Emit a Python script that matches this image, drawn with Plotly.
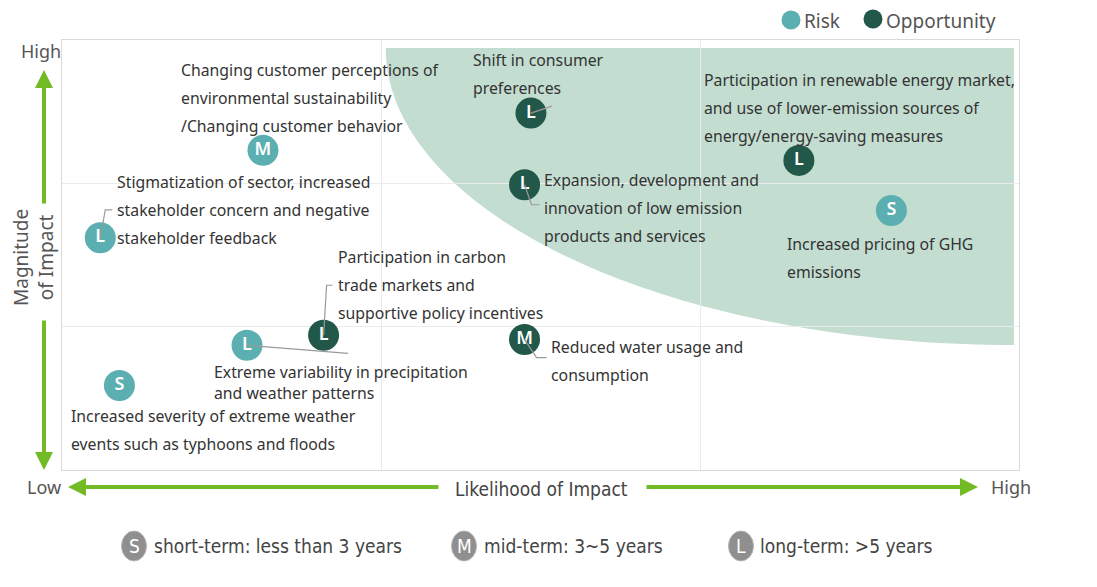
import numpy as np
import plotly.graph_objects as go

# ---------------- data ----------------
labels = [
    ["Changing customer perceptions of", "environmental sustainability", "/Changing customer behavior"],
    ["Shift in consumer", "preferences"],
    ["Participation in renewable energy market,", "and use of lower-emission sources of", "energy/energy-saving measures"],
    ["Expansion, development and", "innovation of low emission", "products and services"],
    ["Increased pricing of GHG", "emissions"],
    ["Stigmatization of sector, increased", "stakeholder concern and negative", "stakeholder feedback"],
    ["Participation in carbon", "trade markets and", "supportive policy incentives"],
    ["Extreme variability in precipitation", "and weather patterns"],
    ["Increased severity of extreme weather", "events such as typhoons and floods"],
    ["Reduced water usage and", "consumption"],
]
types = ["Risk", "Opportunity", "Opportunity", "Opportunity", "Risk",
         "Risk", "Opportunity", "Risk", "Risk", "Opportunity"]
terms = ["M", "L", "L", "L", "S", "L", "L", "L", "S", "M"]
likelihood = [0.63, 1.47, 2.31, 1.45, 2.60, 0.12, 0.82, 0.58, 0.18, 1.45]
magnitude = [2.23, 2.49, 2.16, 1.99, 1.81, 1.62, 0.94, 0.87, 0.59, 0.91]

term_legend = [("S", "short-term: less than 3 years"),
               ("M", "mid-term: 3~5 years"),
               ("L", "long-term: >5 years")]

# ---------------- styles ----------------
# label placement (pixel offset of first line from point: dx, dy down; line spacing or None = compact block)
label_style = [(-84, -80, 28), (-60, -53, 28), (-97, -80, 28), (17, -5, 28), (-106, 33, 28),
               (15, -56, 28), (12, -78, 28), (-35, 28, None), (-50, 31, 28), (24, 7, 28)]
# leader paths in pixel offsets (x right, y down)
leaders = {1: [(0, 0), (21, -7)],
           3: [(0, 0), (7, 20), (15, 20)],
           5: [(0, 0), (5, -28), (12, -28)],
           6: [(0, 0), (3, -50), (9, -50)],
           7: [(0, 0), (101, 8)],
           9: [(0, 0), (12, 18), (22, 18)]}

colors = {"Risk": "#5bafb0", "Opportunity": "#22584a"}
GREEN = "#72bb25"
TXT = "#333333"
FONT = "Noto Sans, Open Sans, sans-serif"
COND = "Liberation Sans Narrow, DejaVu Sans Condensed, Roboto Condensed, sans-serif"
LFS = 15.8

L, R, T, B = 62, 1019, 40, 470
W, H = R - L, B - T
def px(p):
    return (p - L) / W
def py(p):
    return (B - p) / H

fig = go.Figure()

# shaded high-priority zone (quarter ellipse)
xc, yc, rx, ry = 2.984, 2.944, 1.969, 2.072
th = np.linspace(np.pi, 1.5 * np.pi, 80)
ex = xc + rx * np.cos(th)
ey = yc + ry * np.sin(th)
path = "M " + " L ".join(f"{a:.4f},{b:.4f}" for a, b in zip(ex, ey)) + f" L {xc},{yc} Z"
fig.add_shape(type="path", path=path, xref="x", yref="y", fillcolor="#c3ddd1",
              line=dict(width=0), layer="below")

# points
for t in ["Risk", "Opportunity"]:
    idx = [i for i, v in enumerate(types) if v == t]
    fig.add_trace(go.Scatter(
        x=[likelihood[i] for i in idx], y=[magnitude[i] for i in idx],
        mode="markers+text", text=[terms[i] for i in idx], textposition="middle center",
        textfont=dict(color="white", size=18, family=FONT, weight=600),
        marker=dict(size=31, color=colors[t], line=dict(width=0)),
        name=t, showlegend=False, cliponaxis=False, hoverinfo="skip"))

# labels
for i, lines in enumerate(labels):
    dx, dy, sp = label_style[i]
    if sp is None:
        lh = LFS * 1.3
        fig.add_annotation(x=likelihood[i], y=magnitude[i], xref="x", yref="y",
                           text="<br>".join(lines), showarrow=False, xanchor="left",
                           yanchor="middle", align="left",
                           xshift=dx, yshift=-(dy + (len(lines) - 1) * lh / 2 - 1),
                           font=dict(size=LFS, color=TXT, family=FONT))
        continue
    for k, ln in enumerate(lines):
        fig.add_annotation(x=likelihood[i], y=magnitude[i], xref="x", yref="y",
                           text=ln, showarrow=False, xanchor="left", yanchor="middle",
                           xshift=dx, yshift=-(dy + k * sp),
                           font=dict(size=LFS, color=TXT, family=FONT))

# leader lines
for i, pts in leaders.items():
    p = "M " + " L ".join(f"{a},{-b}" for a, b in pts)
    fig.add_shape(type="path", path=p, xsizemode="pixel", ysizemode="pixel",
                  xanchor=likelihood[i], yanchor=magnitude[i], xref="x", yref="y",
                  line=dict(color="#9a9a9a", width=1.2), layer="above")

# top legend
for cx, cy, col, lab, tx in [(791, 20, colors["Risk"], "Risk", 802),
                             (873, 19, colors["Opportunity"], "Opportunity", 884)]:
    r = 9.5
    fig.add_shape(type="circle", xref="paper", yref="paper",
                  x0=px(cx - r), x1=px(cx + r), y0=py(cy + r), y1=py(cy - r),
                  fillcolor=col, line=dict(width=0))
    fig.add_annotation(xref="paper", yref="paper", x=px(tx), y=py(21), text=lab,
                       showarrow=False, xanchor="left", yanchor="middle",
                       font=dict(size=19, color="#555555", family=FONT))

# axis end labels
for txt, x, y, anc in [("High", 63, 51, "right"), ("Low", 63, 487, "right"), ("High", 989, 487, "left")]:
    fig.add_annotation(xref="paper", yref="paper", x=px(x), y=py(y), text=txt,
                       showarrow=False, xanchor=anc, yanchor="middle",
                       font=dict(size=18, color="#555555", family=FONT))
fig.add_annotation(xref="paper", yref="paper", x=px(541), y=py(489), text="Likelihood of Impact",
                   showarrow=False, xanchor="center", yanchor="middle",
                   font=dict(size=19, color="#444444", family=COND))
fig.add_annotation(xref="paper", yref="paper", x=px(33), y=py(258), text="Magnitude<br>of Impact",
                   showarrow=False, textangle=-90, xanchor="center", yanchor="middle",
                   font=dict(size=19, color="#555555", family=FONT))

# green arrows
for tipx, tipy, ax, ay in [(68, 487, 372, 0), (978, 487, -333, 0), (44, 70, 0, 135), (44, 470, 0, -151)]:
    fig.add_annotation(xref="paper", yref="paper", x=px(tipx), y=py(tipy), ax=ax, ay=ay,
                       text="", showarrow=True, arrowhead=2, arrowsize=0.9, arrowwidth=4,
                       arrowcolor=GREEN)

# bottom legend
for (letter, desc), cx, tx in zip(term_legend, [134, 464, 741], [152, 482, 758]):
    fig.add_shape(type="circle", xref="paper", yref="paper",
                  x0=px(cx - 12.5), x1=px(cx + 12.5), y0=py(546 + 15), y1=py(546 - 15),
                  fillcolor="#8f8f8f", line=dict(color="#b5b5b5", width=1))
    fig.add_annotation(xref="paper", yref="paper", x=px(cx), y=py(546), text=letter,
                       showarrow=False, xanchor="center", yanchor="middle",
                       font=dict(size=19, color="white", family=COND))
    fig.add_annotation(xref="paper", yref="paper", x=px(tx), y=py(546), text=desc,
                       showarrow=False, xanchor="left", yanchor="middle",
                       font=dict(size=19, color="#444444", family=COND))

axis_common = dict(range=[0, 3], dtick=1, tick0=0, showticklabels=False, ticks="",
                   showgrid=True, gridcolor="#ebebeb", gridwidth=1, zeroline=False,
                   showline=True, linecolor="#d9d9d9", linewidth=1, mirror=True, fixedrange=True)
fig.update_layout(
    width=1097, height=587, margin=dict(l=L, r=1097 - R, t=T, b=587 - B),
    plot_bgcolor="white", paper_bgcolor="white", showlegend=False,
    xaxis=axis_common, yaxis=axis_common,
)
fig.write_html("out.html", config={"displayModeBar": False})
